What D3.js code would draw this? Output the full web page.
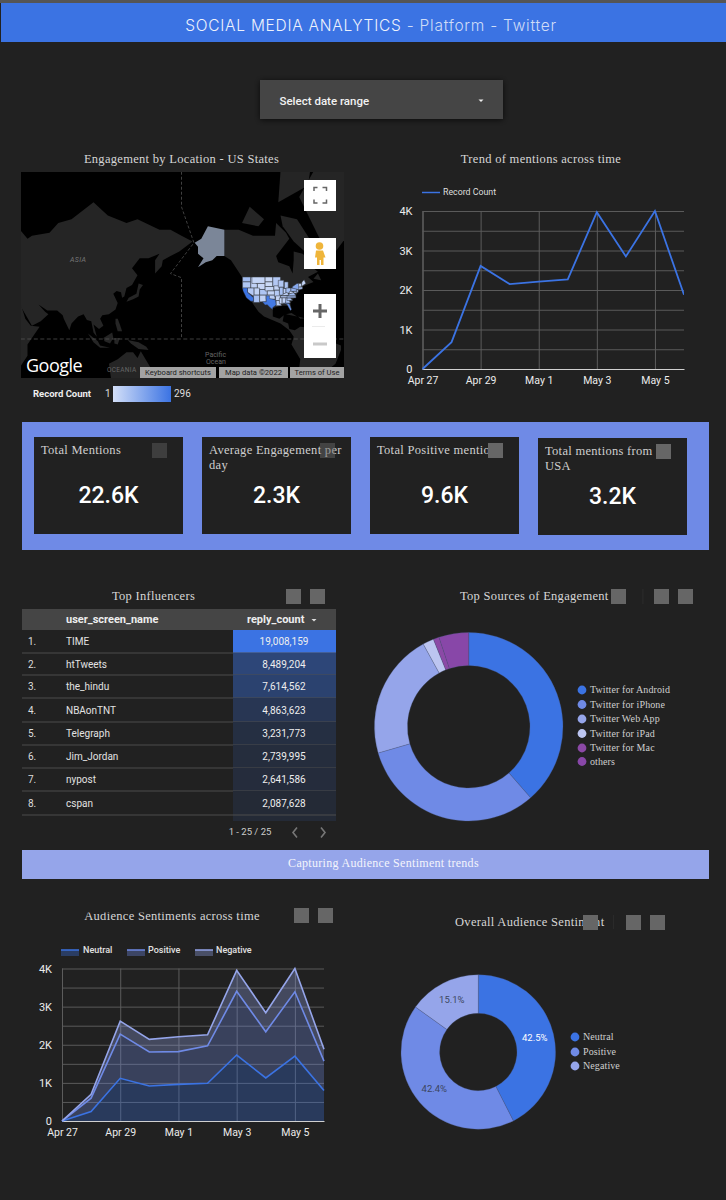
<!DOCTYPE html>
<html><head><meta charset="utf-8"><title>Social Media Analytics</title>
<script src="https://cdn.jsdelivr.net/npm/d3@7"></script>
<style>html,body{margin:0;padding:0;background:#212121;overflow:hidden}svg{display:block}</style></head><body><svg id="c" width="726" height="1200"></svg>
<script>
// ---------- data ----------
const days = ["2022-04-27","2022-04-28","2022-04-29","2022-04-30","2022-05-01","2022-05-02","2022-05-03","2022-05-04","2022-05-05","2022-05-06"];
const recordCount = [0,680,2610,2150,2210,2270,3970,2850,4000,1880];
const neutral  = [0,250,1120,920,960,990,1730,1130,1700,800];
const positive = [0,350,1160,890,860,980,1670,1210,1690,770];
const negative = [0,100,340,330,390,290,550,500,610,310];
const sentimentNames = ["Neutral","Positive","Negative"];
const sentimentShare = [42.5,42.4,15.1];
const sourceNames = ["Twitter for Android","Twitter for iPhone","Twitter Web App","Twitter for iPad","Twitter for Mac","others"];
const sourceShare = [38.6,31.9,21.5,1.9,1.0,5.1];
const influencers = ["TIME","htTweets","the_hindu","NBAonTNT","Telegraph","Jim_Jordan","nypost","cspan"];
const replyCounts = [19008159,8489204,7614562,4863623,3231773,2739995,2641586,2087628];
const kpiTitles = [["Total Mentions"],["Average Engagement per","day"],["Total Positive mentio"],["Total mentions from","USA"]];
const kpiValues = ["22.6K","2.3K","9.6K","3.2K"];
// rough map outlines as [lon,lat]
const landShapes = [
 [[28,72],[40,67],[44,68],[60,69],[68,72],[80,73],[100,77],[113,74],[130,72],[140,73],[160,70],[170,70],[180,68],[-170,66],[178,62],[170,60],[163,58],[162,55],[156,51],[156,58],[160,61],[150,59],[142,59],[135,54],[140,50],[135,44],[130,42],[128,36],[126,35],[125,39],[121,40],[118,38],[122,31],[120,26],[114,22],[108,21],[106,18],[109,12],[105,9],[100,13],[103,2],[100,6],[98,16],[94,17],[91,22],[86,20],[80,14],[78,8],[73,18],[72,21],[67,25],[58,25],[50,30],[56,24],[59,22],[52,16],[44,12],[38,22],[34,28],[28,30]],
 [[28,31],[34,30],[38,18],[43,12],[51,11],[40,-5],[40,-15],[33,-25],[28,-33]],
 [[130,32],[136,34],[141,36],[142,41],[145,44],[141,45],[139,38],[132,35]],
 [[120,18],[122,18],[124,13],[126,7],[122,7],[120,14]],
 [[95,5],[104,-2],[106,-6],[115,-8],[106,-8],[100,-3]],
 [[109,1],[117,6],[118,1],[115,-4],[110,-2]],
 [[119,1],[124,1],[122,-5],[119,-4]],
 [[131,-1],[141,-3],[148,-7],[150,-10],[141,-9],[134,-4]],
 [[114,-22],[122,-18],[130,-12],[136,-12],[140,-17],[143,-11],[153,-27],[150,-37],[140,-37],[116,-34]],
 [[-141,70],[-128,70],[-115,68],[-95,68],[-94,72],[-85,69],[-82,67],[-94,60],[-92,57],[-82,55],[-79,51],[-78,58],[-78,62],[-70,61],[-65,59],[-60,54],[-56,52],[-65,49],[-60,46],[-70,43],[-75,38],[-81,31],[-80,26],[-82,29],[-90,29],[-97,27],[-97,20],[-91,18],[-87,21],[-88,16],[-83,14],[-82,9],[-77,8],[-72,11],[-62,10],[-50,0],[-35,-6],[-35,-10],[-40,-22],[-48,-28],[-58,-38],[-75,-38],[-72,-18],[-80,-5],[-78,2],[-82,8],[-90,14],[-105,20],[-110,24],[-117,33],[-125,42],[-125,49],[-135,58],[-141,60]],
 [[-125,72],[-110,71],[-105,73],[-118,76]],[[-90,74],[-75,73],[-62,66],[-68,62],[-78,66],[-88,71]],[[-92,77],[-65,80],[-62,83],[-90,82]],
 [[-73,78],[-60,82],[-30,84],[-20,76],[-25,70],[-43,60],[-52,65]],
 [[-60,48],[-53,47],[-56,51]],[[-85,22],[-75,20],[-80,23]],[[-74,20],[-68,18.5],[-72,18]]
];
const alaskaShape = [[-168,65.5],[-162,67],[-156,71],[-141,70],[-141,60],[-148,60],[-152,58],[-158,57],[-165,54.5],[-160,59],[-165,61],[-165,64]];
const dateLine = [[-180,85],[-180,76],[-168.7,65.5],[-190,51],[-180,48.6],[-180,0]];
const stateShapes = [
 [[-124.5,46],[-117,46],[-117,49],[-124.5,49]],[[-124.5,42],[-117,42],[-117,46],[-124.5,46]],
 [[-117,42],[-111,42],[-111,44.5],[-114,46],[-116,49],[-117,49]],[[-116,45],[-104,45],[-104,49],[-116,49]],
 [[-111,41],[-104,41],[-104,45],[-111,45]],[[-120,42],[-114,42],[-114,36],[-120,39]],
 [[-114,37],[-109,37],[-109,42],[-114,42]],[[-109,37],[-102,37],[-102,41],[-109,41]],
 [[-114.5,31.5],[-109,31.5],[-109,37],[-114.5,37]],[[-109,32],[-103,32],[-103,37],[-109,37]],
 [[-104,46],[-97,46],[-97,49],[-104,49]],[[-104,43],[-97,43],[-97,46],[-104,46]],
 [[-104,40],[-96,40],[-96,43],[-104,43]],[[-102,37],[-95,37],[-95,40],[-102,40]],
 [[-103,34],[-95,34],[-95,37],[-103,37]],[[-97,43],[-90,43],[-90,49],[-97,49]],
 [[-96,40.5],[-91,40.5],[-91,43.5],[-96,43.5]],[[-95.5,36],[-90,36],[-91,40.5],[-95.5,40.5]],
 [[-94.5,33],[-90,33],[-90,36.5],[-94.5,36.5]],[[-94,29],[-89,29],[-91,33],[-94,33]],
 [[-92,42.5],[-87,42.5],[-87,47],[-92,47]],[[-91,37],[-87.5,37],[-87.5,42.5],[-91,42.5]],
 [[-87.5,38],[-85,38],[-85,41.7],[-87.5,41.7]],[[-86.5,41.7],[-83,41.7],[-83,46],[-86.5,46]],
 [[-85,38.5],[-80.5,38.5],[-80.5,42],[-85,42]],[[-89,36.5],[-82,37],[-84,39],[-87,38]],
 [[-90,35],[-82,35],[-82,36.5],[-90,36.5]],[[-91,30.5],[-88.5,30.5],[-88.5,35],[-91,35]],
 [[-88.5,30.5],[-85,31],[-85,35],[-88.5,35]],[[-85.5,31],[-81,31],[-83,35],[-85,35]],
 [[-84,33],[-79,33],[-81,35],[-84,35]],[[-84,35],[-76,35],[-76,36.5],[-84,36.5]],
 [[-83,36.5],[-76,36.5],[-78,39],[-82,38]],[[-82,38],[-78,38.8],[-80,40],[-82,39.5]],
 [[-80.5,39.7],[-75,39.7],[-75,42],[-80.5,42]],[[-78,38.5],[-75,38.5],[-75,39.7],[-78,39.7]],
 [[-75.5,39],[-74,39],[-74,41],[-75.5,41]],[[-79.5,42],[-74,41],[-72,41],[-73.5,45],[-75,45],[-79,43]],
 [[-73.5,41],[-70,41.3],[-70,42.8],[-73.5,42.8]],[[-73.5,42.8],[-71,42.8],[-71,45],[-73.5,45]],
 [[-71,43],[-67,45],[-68.5,47.3],[-70.5,46]]
];
const stateCounts = [95,70,38,28,25,60,34,72,82,36,18,16,26,30,52,64,30,62,30,50,68,86,50,74,92,44,66,28,36,92,80,96,100,20,120,50,74,150,78,26,30];
const californiaShape = [[-124.5,42],[-120,42],[-120,39],[-114.5,35],[-114.5,32.5],[-117,32.5],[-121,35],[-124,40]];
const texasShape = [[-106.5,32],[-103,32],[-103,36.5],[-100,36.5],[-100,34.5],[-94.5,33.5],[-94,29.5],[-97,27.5],[-97.3,26],[-99.5,27.5],[-102,29.8],[-104,29.5]];
const floridaShape = [[-87.5,31],[-82,30.7],[-80,26],[-81,25],[-82.8,28],[-84,30]];
const hotStateCounts = [296,280,210];
const sourceColors = ["#3b73e3","#6f8ae6","#95a5ea","#bcc5f1","#8b49a6","#8847a8"];
const sentimentColors = ["#3b73e3","#6f8ae6","#95a5ea"];

// ---------- helpers ----------
const svg = d3.select("#c");
const SERIF = "'Liberation Serif','DejaVu Serif',serif";
const txt = (g,x,y,s,o={}) => g.append("text").attr("x",x).attr("y",y).text(s)
  .attr("fill",o.fill||"#e6e6e6").attr("font-size",o.size||11).attr("text-anchor",o.anchor||"start")
  .attr("font-weight",o.weight||400).attr("font-family",o.family||"Roboto,sans-serif")
  .attr("letter-spacing",o.ls||0).attr("font-style",o.style||"normal").attr("dominant-baseline","middle");
const box = (x,y,w,h,f,g=svg) => g.append("rect").attr("x",x).attr("y",y).attr("width",w).attr("height",h).attr("fill",f);
const squares = (list,y,f="#666") => list.forEach(x=>box(x,y,15,15,f));
const title = (x,y,s,a="middle") => txt(svg,x,y+1,s,{family:SERIF,size:12.5,anchor:a,fill:"#d6d6d6",ls:.3});

box(0,0,726,1200,"#212121");
// ---------- header ----------
box(0,0,726,3,"#555");
box(1,3,725,39,"#3b73e3");
const head = txt(svg,371,26.5,"SOCIAL MEDIA ANALYTICS",{size:15.5,anchor:"middle",family:"Inter,sans-serif",weight:300,fill:"#eef2fc",ls:.75});
head.append("tspan").attr("fill","#cfdcf7").text(" - Platform - Twitter");

// ---------- date control ----------
const defs = svg.append("defs");
const fl = defs.append("filter").attr("id","sh").attr("x","-10%").attr("y","-20%").attr("width","120%").attr("height","140%");
fl.append("feDropShadow").attr("dx",0).attr("dy",1).attr("stdDeviation",3).attr("flood-color","#000").attr("flood-opacity",.7);
box(260,80,243,39,"#454545").attr("filter","url(#sh)");
txt(svg,279.5,101.5,"Select date range",{size:11.5,weight:500,fill:"#f2f2f2"});
svg.append("path").attr("d",d3.line()([[478.5,99.5],[483.5,99.5],[481,102]])).attr("fill","#eee");

// ---------- map ----------
title(181.5,159,"Engagement by Location - US States");
defs.append("clipPath").attr("id","mc").append("rect").attr("x",21).attr("y",172).attr("width",323).attr("height",206);
const mapG = svg.append("g").attr("clip-path","url(#mc)");
box(21,172,323,206,"#000",mapG);
const mx = d3.scaleLinear().domain([-125,-67]).range([242,305.8]);
const my = d3.scaleLinear().domain([0,1]).range([339,276]);
const rad = Math.PI/180;
const proj = ([lon,lat]) => { const l = lon>0 ? lon-360 : lon; return [mx(l), my(d3.geoMercatorRaw(0,lat*rad)[1])]; };
const ln = d3.line().x(d=>proj(d)[0]).y(d=>proj(d)[1]);
const closed = d => ln(d)+"Z";
mapG.selectAll("path.land").data(landShapes).join("path").attr("class","land").attr("d",closed).attr("fill","#252525");
mapG.append("path").attr("d",closed(alaskaShape)).attr("fill","#7b8698");
const colorScale = d3.scaleLinear().domain([1,296]).range(["#d3dff8","#3b73e3"]);
mapG.selectAll("path.st").data(stateShapes).join("path").attr("class","st").attr("d",closed)
  .attr("fill",(d,i)=>colorScale(stateCounts[i])).attr("stroke","#33363d").attr("stroke-width",.5);
[californiaShape,texasShape,floridaShape].forEach((s,i)=>mapG.append("path").attr("d",closed(s))
  .attr("fill",colorScale(hotStateCounts[i])).attr("stroke","#33363d").attr("stroke-width",.4));
mapG.append("path").attr("d",ln(dateLine)).attr("fill","none").attr("stroke","#5a5a5a").attr("stroke-width",.7).attr("stroke-dasharray","3 2");
mapG.append("path").attr("d",ln([[28,0],[-31,0]])).attr("fill","none").attr("stroke","#5a5a5a").attr("stroke-width",.7).attr("stroke-dasharray","4 2.5");
txt(mapG,70,260,"ASIA",{size:7,fill:"#777",style:"italic",ls:.4});
txt(mapG,107,370,"OCEANIA",{size:6.5,fill:"#666",ls:.3});
txt(mapG,205,355,"Pacific",{size:7,fill:"#666"});
txt(mapG,206,362.5,"Ocean",{size:7,fill:"#666"});
txt(svg,26,367,"Google",{size:18,weight:500,fill:"#fff",family:"'Open Sans',sans-serif"}).attr("letter-spacing",-.5);
[[140,76,"Keyboard shortcuts"],[219,69,"Map data ©2022"],[290,54,"Terms of Use"]].forEach(([x,w,s])=>{
  box(x,367,w,11,"#a3a3a3"); txt(svg,x+w/2,372.8,s,{size:7.6,anchor:"middle",fill:"#1d1d1d"});});
// map controls
box(304,180,32,31,"#fff");
svg.append("path").attr("d","M314 191v-3.500h3.500M322.500 187.500h4v3.500M326.500 199.500v3.500h-4M317.500 203h-3.500v-3.500").attr("fill","none").attr("stroke","#666").attr("stroke-width",1.5);
box(304,238,32,31,"#fff");
svg.append("circle").attr("cx",319.500).attr("cy",246).attr("r",3.800).attr("fill","#efb53a");
svg.append("path").attr("d","M316 250.500h7l2.500 7h-2v7.500h-2.500v-5h-1.500v5h-2.500v-7.500h-2z").attr("fill","#efb53a");
box(304,294,32,64,"#fff");
box(313,309.500,14,3,"#666"); box(318.500,304,3,14,"#666");
box(312,326,13,.8,"#e6e6e6"); box(313,342.500,14,3,"#c9c9c9");
// colour legend
txt(svg,33,394.500,"Record Count",{size:9.500,weight:700,fill:"#eee"});
txt(svg,105,394.500,"1",{size:10,fill:"#ddd"});
const lg = defs.append("linearGradient").attr("id","lg");
lg.append("stop").attr("offset",0).attr("stop-color",colorScale(1));
lg.append("stop").attr("offset",1).attr("stop-color",colorScale(296));
box(113,386,58,16,"url(#lg)");
txt(svg,174,394.500,"296",{size:10,fill:"#ddd"});

// ---------- time charts ----------
const parse = d3.utcParse("%Y-%m-%d");
const dates = days.map(parse);
const fmtDate = d3.utcFormat("%b %-d");
const yVals = d3.range(0,4001,500);
const xVals = d3.range(0,10,2).map(i=>dates[i]);
function timeFrame(left,right,topY,bottom){
  const x = d3.scaleUtc().domain([dates[0],dates[9]]).range([left,right]);
  const y = d3.scaleLinear().domain([0,4000]).range([bottom,topY]);
  const gy = svg.append("g").attr("transform",`translate(${left},0)`)
    .call(d3.axisLeft(y).tickValues(yVals).tickSize(-(right-left)).tickSizeOuter(0).tickPadding(10).tickFormat(v=>v%1000?"":(v?v/1000+"K":"0")));
  gy.select(".domain").attr("stroke","#6a6a6a");
  gy.selectAll(".tick line").attr("stroke",v=>v?"#5a5a5a":"#d0d0d0");
  gy.selectAll("text").attr("fill","#ececec").attr("font-size",11).attr("font-family","Roboto,sans-serif");
  const gx = svg.append("g").attr("transform",`translate(0,${bottom})`)
    .call(d3.axisBottom(x).tickValues(xVals).tickSize(-(bottom-topY)).tickSizeOuter(0).tickPadding(8).tickFormat(fmtDate));
  gx.select(".domain").attr("stroke","#d0d0d0");
  gx.selectAll(".tick line").attr("stroke","#5c5c5c");
  gx.selectAll("text").attr("fill","#ececec").attr("font-size",10.500).attr("font-family","Roboto,sans-serif");
  return {x,y};
}
title(541,159,"Trend of mentions across time");
const t1 = timeFrame(422.5,684,211,369);
defs.append("clipPath").attr("id","tc").append("rect").attr("x",420).attr("y",205).attr("width",264).attr("height",170);
svg.append("path").datum(recordCount).attr("clip-path","url(#tc)")
  .attr("d",d3.line().x((d,i)=>t1.x(dates[i])).y(d=>t1.y(d))).attr("fill","none").attr("stroke","#3b73e3").attr("stroke-width",1.800);
svg.append("line").attr("x1",422).attr("x2",440).attr("y1",192.500).attr("y2",192.500).attr("stroke","#3b73e3").attr("stroke-width",1.500);
txt(svg,443,193,"Record Count",{size:8.800,fill:"#ddd"});

// ---------- KPI ----------
box(22,422,687,128,"#6f8ae6");
const kpiX = [34,202,370,538], kpiY=[437,437,437,438], sqAlpha=[.43,.5,1,1], sqX=[152,320,488,656];
kpiX.forEach((x,i)=>{
  box(x,kpiY[i],149,97,"#212121");
  kpiTitles[i].forEach((s,j)=>txt(svg,x+7,kpiY[i]+14.5+j*15,s,{family:SERIF,size:12.500,fill:"#cfcfcf",ls:.3}));
  box(sqX[i],kpiY[i]+6,15,15,"#666").attr("fill-opacity",sqAlpha[i]);
  txt(svg,x+74.500,kpiY[i]+59.5,kpiValues[i],{size:23,weight:500,anchor:"middle",fill:"#fff"});
});

// ---------- table ----------
title(153.500,596.5,"Top Influencers");
squares([286,310],589);
box(22,609,314,21,"#454545");
txt(svg,66,620,"user_screen_name",{size:11,weight:700,fill:"#eee"});
txt(svg,247,620,"reply_count",{size:11,weight:700,fill:"#eee"});
svg.append("path").attr("d",d3.line()([[311.500,619],[316.500,619],[314,621.500]])).attr("fill","#ddd");
const rowEdges = [630,653,675,698,722,745,768,791,815];
const heat = d3.scaleLinear().domain([0,replyCounts[0]]).range(["#212121","#3b73e3"]);
const fmtN = d3.format(",");
influencers.forEach((n,i)=>{
  const y0=rowEdges[i], y1=rowEdges[i+1], cy=(y0+y1)/2+1.2;
  box(233,y0,103,y1-y0+(i==7?6:0),heat(replyCounts[i]));
  svg.append("line").attr("x1",22).attr("x2",336).attr("y1",y1).attr("y2",y1).attr("stroke","#4d4d4d");
  txt(svg,28,cy,(i+1)+".",{size:10,fill:"#ddd"});
  txt(svg,66,cy,n,{size:10,fill:"#e2e2e2"});
  txt(svg,284,cy,fmtN(replyCounts[i]),{size:10,anchor:"middle",fill:"#eee"});
});
txt(svg,250,832.500,"1 - 25 / 25",{size:9.500,anchor:"middle",fill:"#ccc"});
[[[297,827.500],[293,832.500],[297,837.500]],[[321,827.500],[325,832.500],[321,837.500]]].forEach(p=>
  svg.append("path").attr("d",d3.line()(p)).attr("fill","none").attr("stroke","#777").attr("stroke-width",1.600));

// ---------- donuts ----------
function donut(cx,cy,rO,rI,vals,cols){
  const arcs = d3.pie().sort(null)(vals);
  const arc = d3.arc().innerRadius(rI).outerRadius(rO);
  const g = svg.append("g").attr("transform",`translate(${cx},${cy})`);
  g.selectAll("path").data(arcs).join("path").attr("d",arc).attr("fill",(d,i)=>cols[i]).attr("stroke","#4c5a80").attr("stroke-width",.3);
  return {g,arcs,arc};
}
function dotLegend(x,ys,names,cols){
  names.forEach((n,i)=>{
    svg.append("circle").attr("cx",x).attr("cy",ys[i]).attr("r",4.400).attr("fill",cols[i]);
    txt(svg,x+8,ys[i]+.8,n,{family:SERIF,size:10,fill:"#cfcfcf",ls:.1});
  });
}
title(460,596.5,"Top Sources of Engagement","start");
squares([611,654,678],589);
box(642.500,589,.8,15,"#2e2e2e");
donut(468.700,726.700,94.300,61.300,sourceShare,sourceColors);
dotLegend(582,[690,704.500,719,733.500,748,761.500],sourceNames,sourceColors);

// ---------- banner ----------
box(22,850,687,29,"#95a5ea");
txt(svg,383.500,864,"Capturing Audience Sentiment trends",{family:SERIF,size:12,anchor:"middle",fill:"#f4f5fc",ls:.3});

// ---------- stacked area ----------
defs.append("clipPath").attr("id","hc").append("rect").attr("x",60).attr("y",912.5).attr("width",230).attr("height",15);
title(172,916,"Audience Sentiments across time").attr("clip-path","url(#hc)");
squares([294,318],908);
const t2 = timeFrame(62,324,968.500,1121);
const rows = dates.map((d,i)=>({d,Neutral:neutral[i],Positive:positive[i],Negative:negative[i]}));
const stacked = d3.stack().keys(sentimentNames)(rows);
const areaGen = d3.area().x(d=>t2.x(d.data.d)).y0(d=>t2.y(d[0])).y1(d=>t2.y(d[1]));
const topLine = d3.line().x(d=>t2.x(d.data.d)).y(d=>t2.y(d[1]));
stacked.forEach((s,i)=>{
  svg.append("path").attr("d",areaGen(s)).attr("fill",sentimentColors[i]).attr("fill-opacity",.3);
});
stacked.forEach((s,i)=>{
  svg.append("path").attr("d",topLine(s)).attr("fill","none").attr("stroke",sentimentColors[i]).attr("stroke-width",1.600);
});
[[61,83],[127,148],[195,216]].forEach(([sx,tx],i)=>{
  box(sx,950,18,6,sentimentColors[i]).attr("fill-opacity",.35);
  svg.append("line").attr("x1",sx).attr("x2",sx+18).attr("y1",950).attr("y2",950).attr("stroke",sentimentColors[i]).attr("stroke-width",1.500);
  txt(svg,tx,951,sentimentNames[i],{size:9,weight:500,fill:"#e2e2e2"});
});

// ---------- sentiment donut ----------
title(455,922,"Overall Audience Sentiment","start");
squares([583,626,650],915);
box(613,915,.8,14,"#2e2e2e");
const sd = donut(478.300,1052,77.300,38.700,sentimentShare,sentimentColors);
sd.g.selectAll("text.v").data(sd.arcs).join("text").attr("class","v")
  .attr("transform",d=>`translate(${sd.arc.centroid(d)})`).text(d=>d.data.toFixed(1)+"%")
  .attr("text-anchor","middle").attr("dominant-baseline","middle").attr("font-size",9.500).attr("font-family","Roboto,sans-serif")
  .attr("fill",(d,i)=>i?"#3c4560":"#fff");
dotLegend(575,[1037,1052,1066],sentimentNames,sentimentColors);
</script></body></html>
